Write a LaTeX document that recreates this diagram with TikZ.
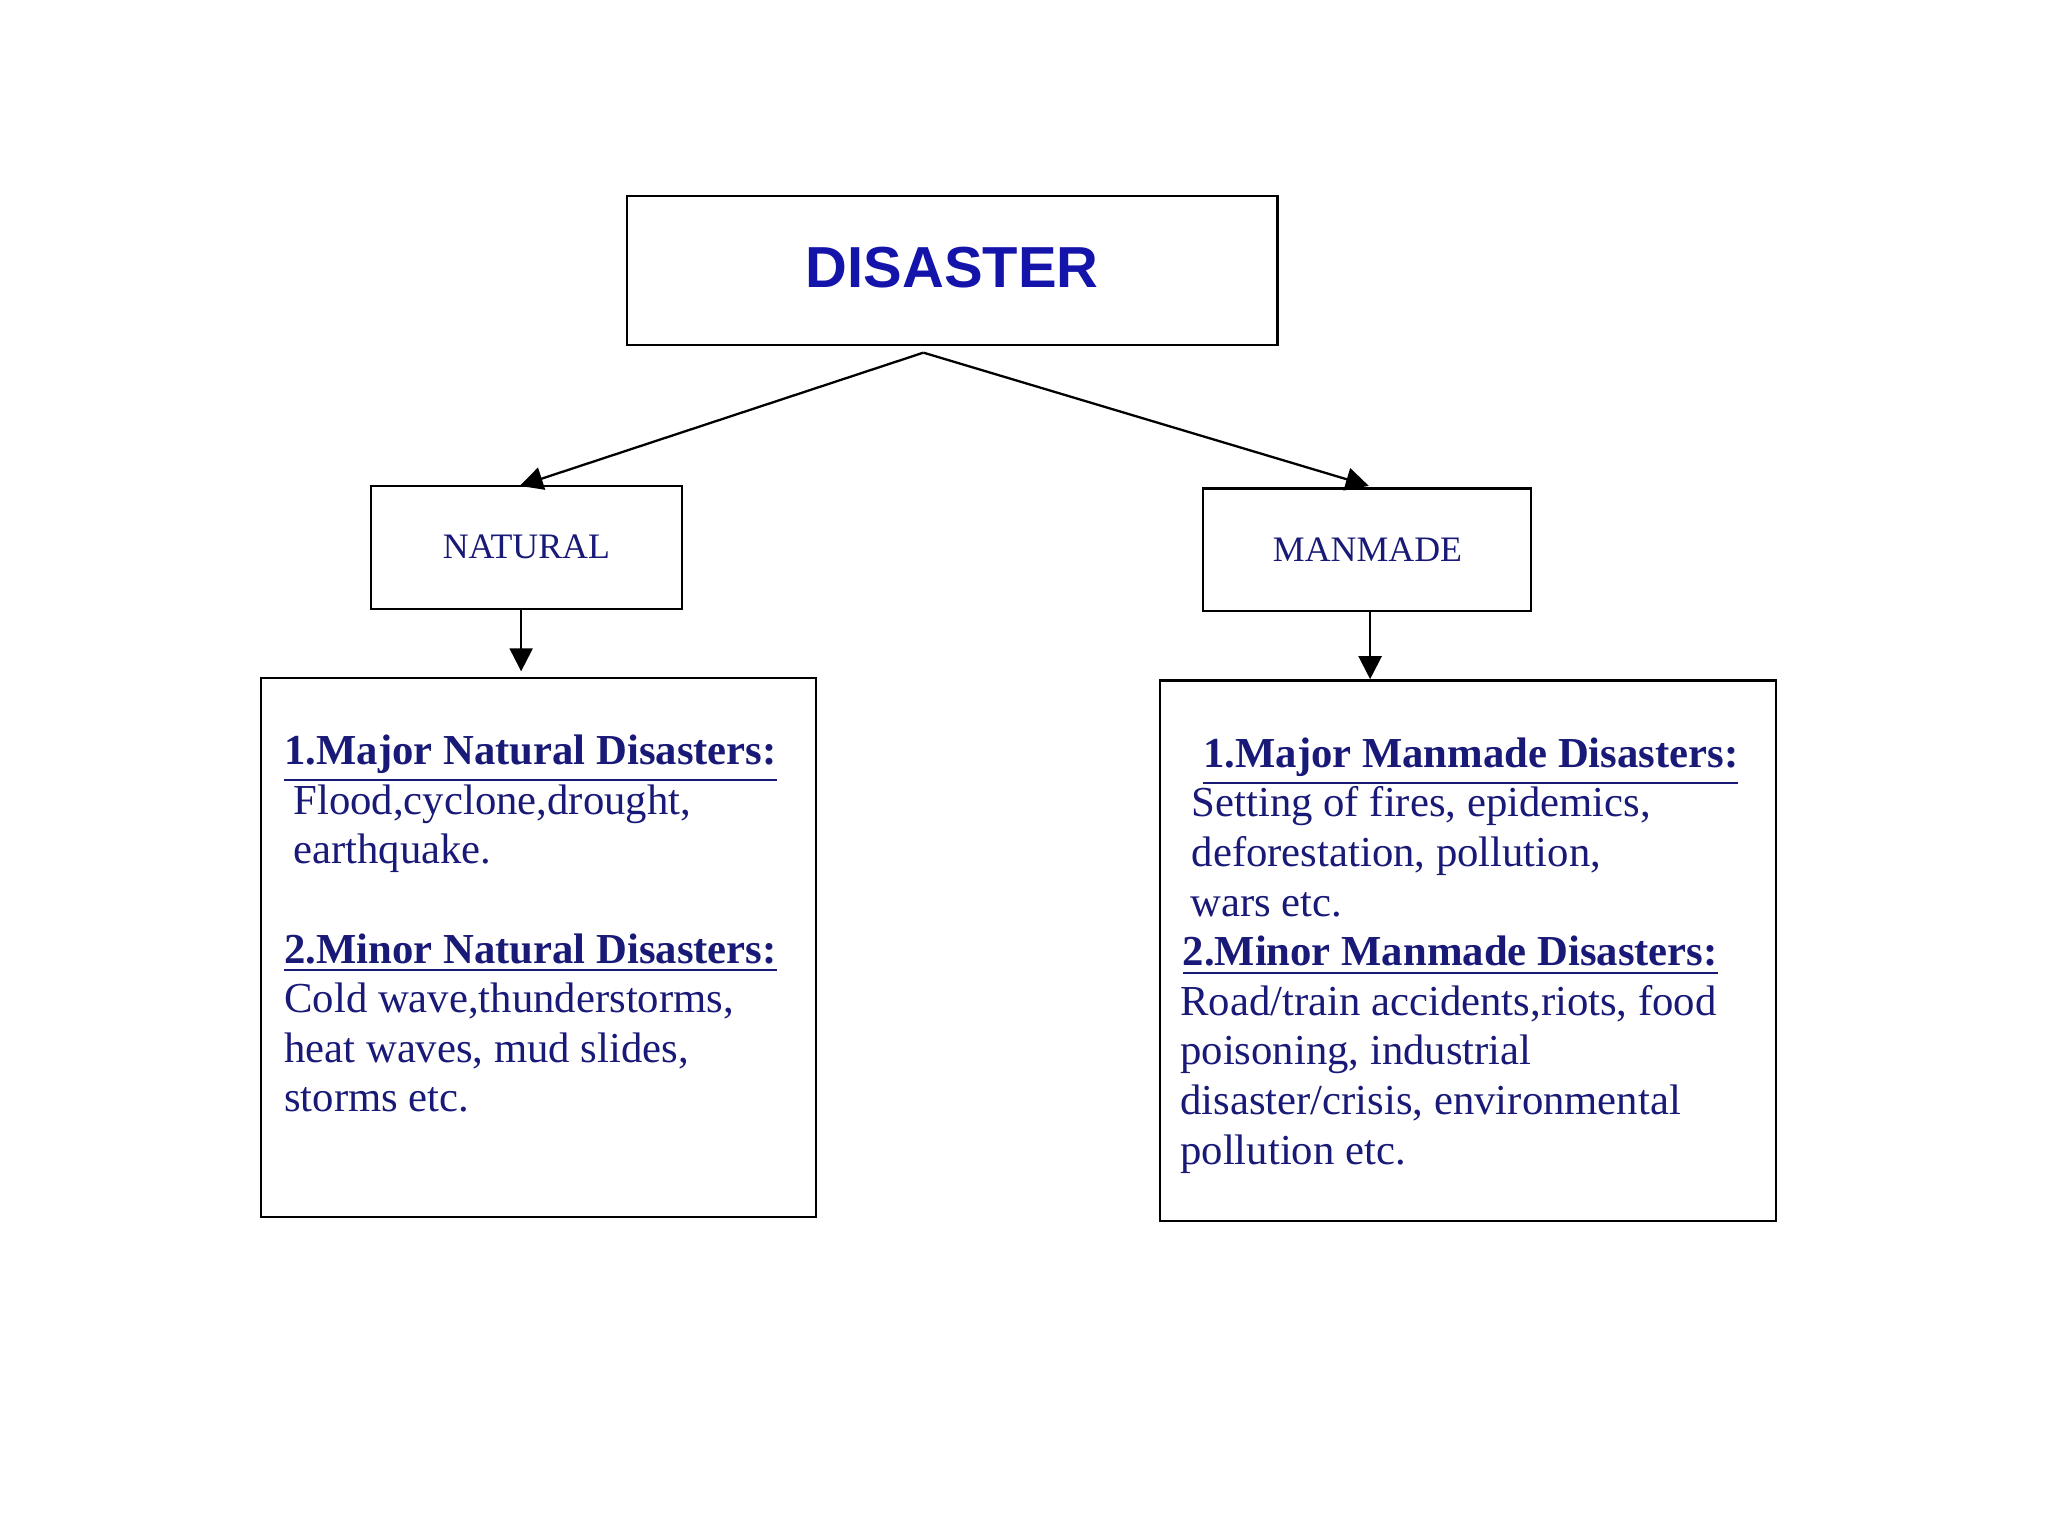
\documentclass[tikz,border=0pt]{standalone}
\usepackage{fontspec}
\setmainfont{Liberation Serif}
\setsansfont{Liberation Sans}
\usetikzlibrary{arrows.meta}
\definecolor{navy}{RGB}{25,25,120}
\definecolor{dblue}{RGB}{20,20,170}
\begin{document}
\begin{tikzpicture}[x=0.01cm,y=-0.01cm,
  conn/.style={line width=0.5pt,-{Triangle[length=5pt,width=5pt]}},
  body/.style={text=navy,font=\fontsize{9.3}{10.8}\selectfont,align=left,anchor=north west,inner sep=0}]
\useasboundingbox (0,0) rectangle (1568,1176);
\draw[line width=0.5pt] (480,150) rectangle (978,264);
\node[font=\sffamily\bfseries\fontsize{12.6}{15}\selectfont,text=dblue] (dt) at (729,205) {DISASTER};
\draw[line width=0.5pt] (284,372) rectangle (522,466);
\node[font=\fontsize{7.8}{9}\selectfont,text=navy] (nat) at (403,419) {NATURAL};
\draw[line width=0.5pt] (921,374) rectangle (1172,468);
\node[font=\fontsize{7.8}{9}\selectfont,text=navy] (man) at (1047,421) {MANMADE};
\coordinate (top) at (707,270);
\coordinate (na) at (398,372);
\coordinate (ma) at (1048,372);
\draw[conn] (top) -- (na);
\draw[conn] (top) -- (ma);
\coordinate (nb) at (399,466); \coordinate (nc) at (399,514);
\coordinate (mb) at (1049,468); \coordinate (mc) at (1049,520);
\draw[conn] (nb) -- (nc);
\draw[conn] (mb) -- (mc);
\draw[line width=0.5pt] (200,519) rectangle (625,932);
\draw[line width=0.5pt] (888,521) rectangle (1360,935);
\node[body] (lt) at (217,562) {%
\textbf{\underline{1.Major Natural Disasters:}}\\
\hspace{2pt}Flood,cyclone,drought,\\
\hspace{2pt}earthquake.\\[10.8pt]
\textbf{\underline{2.Minor Natural Disasters:}}\\
Cold wave,thunderstorms,\\
heat waves, mud slides,\\
storms etc.};
\node[body] (rt) at (903,564) {%
\hspace{5pt}\textbf{\underline{1.Major Manmade Disasters:}}\\
\hspace{2.5pt}Setting of fires, epidemics,\\
\hspace{2.5pt}deforestation, pollution,\\
\hspace{2.2pt}wars etc.\\
\hspace{0.5pt}\textbf{\underline{2.Minor Manmade Disasters:}}\\
Road/train accidents,riots, food\\
poisoning, industrial\\
disaster/crisis, environmental\\
pollution etc.};
\end{tikzpicture}
\end{document}
